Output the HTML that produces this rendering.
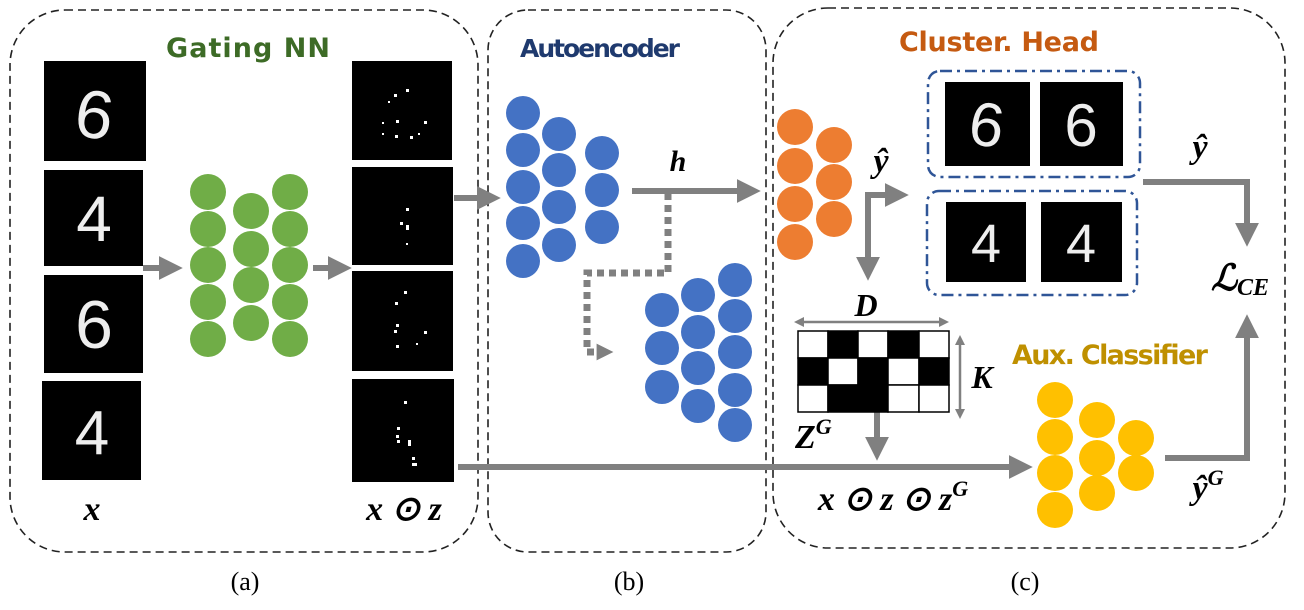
<!DOCTYPE html>
<html><head><meta charset="utf-8"><style>
html,body{margin:0;padding:0;background:#fff;}
svg{display:block;}
.t{font-family:"DejaVu Sans","Liberation Sans",sans-serif;font-weight:bold;}
.m{font-family:"Liberation Serif",serif;font-weight:bold;font-style:italic;}
.d{font-family:"Liberation Sans",sans-serif;fill:#eee;font-weight:normal;}
</style></head><body>
<svg width="1304" height="610" viewBox="0 0 1304 610" xmlns="http://www.w3.org/2000/svg">
<defs>
<marker id="ah" markerWidth="4" markerHeight="4" refX="2.2" refY="2" orient="auto" markerUnits="strokeWidth"><path d="M0,0 L4,2 L0,4 Z" fill="#808080"/></marker>
<marker id="dah" markerWidth="2.4" markerHeight="2.4" refX="1.2" refY="1.2" orient="auto" markerUnits="strokeWidth"><path d="M0,0 L2.4,1.2 L0,2.4 Z" fill="#808080"/></marker>
</defs>
<g fill="none" stroke="#222" stroke-width="1.6" stroke-dasharray="8,5">
<rect x="10" y="10" width="468" height="542" rx="55"/>
<rect x="488" y="10" width="278" height="542" rx="40"/>
<rect x="773" y="8" width="512" height="540" rx="55"/>
</g>
<text class="t" x="248" y="57" font-size="27" fill="#3d6b26" text-anchor="middle" textLength="164">Gating NN</text>
<text class="t" x="600" y="57" font-size="25" fill="#1f3a6e" text-anchor="middle" textLength="160">Autoencoder</text>
<text class="t" x="999" y="51" font-size="27" fill="#c55a11" text-anchor="middle" textLength="200">Cluster. Head</text>
<text class="t" x="1110" y="364" font-size="27" fill="#bf9000" text-anchor="middle" textLength="196">Aux. Classifier</text>
<!-- left images -->
<rect x="44" y="61" width="102" height="100" fill="#000"/><text class="d" x="95" y="138" font-size="68" text-anchor="middle" transform="rotate(8 95 110)">6</text>
<rect x="44" y="170" width="99" height="96" fill="#000"/><text class="d" x="94" y="241" font-size="64" text-anchor="middle">4</text>
<rect x="44" y="275" width="99" height="98" fill="#000"/><text class="d" x="94" y="348" font-size="68" text-anchor="middle">6</text>
<rect x="42" y="381" width="99" height="99" fill="#000"/><text class="d" x="92" y="454" font-size="62" text-anchor="middle">4</text>
<!-- masked images -->
<rect x="352" y="61" width="100" height="99" fill="#000"/>
<rect x="352" y="167" width="101" height="98" fill="#000"/>
<rect x="352" y="271" width="101" height="100" fill="#000"/>
<rect x="352" y="379" width="102" height="103" fill="#000"/>
<g fill="#fff">
<rect x="406" y="89" width="3" height="3"/><rect x="394" y="94" width="3" height="3"/><rect x="388" y="101" width="2" height="2"/><rect x="396" y="120" width="3" height="3"/><rect x="424" y="121" width="3" height="3"/><rect x="395" y="135" width="3" height="3"/><rect x="410" y="136" width="3" height="3"/><rect x="382" y="133" width="2" height="2"/><rect x="418" y="133" width="2" height="2"/><rect x="382" y="122" width="2" height="2"/>
<rect x="406" y="208" width="3" height="3"/><rect x="400" y="222" width="3" height="3"/><rect x="406" y="225" width="3" height="5"/><rect x="406" y="243" width="2" height="2"/>
<rect x="404" y="291" width="3" height="3"/><rect x="395" y="302" width="3" height="3"/><rect x="396" y="324" width="3" height="3"/><rect x="394" y="330" width="3" height="3"/><rect x="424" y="331" width="3" height="3"/><rect x="396" y="345" width="3" height="3"/><rect x="416" y="343" width="2" height="2"/>
<rect x="404" y="401" width="3" height="3"/><rect x="397" y="427" width="3" height="3"/><rect x="396" y="435" width="3" height="3"/><rect x="397" y="440" width="3" height="3"/><rect x="408" y="440" width="3" height="6"/><rect x="412" y="457" width="3" height="3"/><rect x="412" y="463" width="5" height="3"/>
</g>
<!-- green -->
<g fill="#70ad47">
<circle cx="208" cy="192" r="18"/><circle cx="208" cy="229" r="18"/><circle cx="208" cy="265" r="18"/><circle cx="208" cy="302" r="18"/><circle cx="208" cy="339" r="18"/>
<circle cx="251" cy="211" r="18"/><circle cx="251" cy="249" r="18"/><circle cx="251" cy="285" r="18"/><circle cx="251" cy="323" r="18"/>
<circle cx="290" cy="192" r="18"/><circle cx="290" cy="229" r="18"/><circle cx="290" cy="265" r="18"/><circle cx="290" cy="302" r="18"/><circle cx="290" cy="339" r="18"/>
</g>
<g stroke="#808080" stroke-width="6" fill="none">
<line x1="143" y1="268" x2="172" y2="268" marker-end="url(#ah)"/>
<line x1="313" y1="268" x2="341" y2="268" marker-end="url(#ah)"/>
<line x1="454" y1="198" x2="490" y2="198" marker-end="url(#ah)"/>
<line x1="632" y1="191" x2="750" y2="191" marker-end="url(#ah)"/>
<path d="M668,193 V273 H587 V352 H605" stroke-dasharray="7,5" marker-end="url(#dah)" stroke-width="7"/>
<path d="M868,195 V270" marker-end="url(#ah)"/>
<path d="M865,195 H898" marker-end="url(#ah)"/>
<path d="M1143,182 H1247 V236" marker-end="url(#ah)"/>
<path d="M1165,458 H1247 V325" marker-end="url(#ah)"/>
<path d="M877,412 V450" marker-end="url(#ah)"/>
<line x1="458" y1="467" x2="1022" y2="467" marker-end="url(#ah)"/>
</g>
<!-- blue -->
<g fill="#4472c4">
<circle cx="523" cy="113" r="17"/><circle cx="523" cy="150" r="17"/><circle cx="523" cy="187" r="17"/><circle cx="523" cy="223" r="17"/><circle cx="523" cy="261" r="17"/>
<circle cx="559" cy="134" r="17"/><circle cx="559" cy="170" r="17"/><circle cx="559" cy="207" r="17"/><circle cx="559" cy="245" r="17"/>
<circle cx="602" cy="153" r="17"/><circle cx="602" cy="190" r="17"/><circle cx="602" cy="227" r="17"/>
<circle cx="662" cy="310" r="17"/><circle cx="662" cy="348" r="17"/><circle cx="662" cy="387" r="17"/>
<circle cx="698" cy="295" r="17"/><circle cx="698" cy="332" r="17"/><circle cx="698" cy="368" r="17"/><circle cx="698" cy="406" r="17"/>
<circle cx="735" cy="280" r="17"/><circle cx="735" cy="316" r="17"/><circle cx="735" cy="352" r="17"/><circle cx="735" cy="390" r="17"/><circle cx="735" cy="425" r="17"/>
</g>
<text class="m" x="678" y="171" font-size="30" text-anchor="middle">h</text>
<!-- orange -->
<g fill="#ed7d31">
<circle cx="795" cy="127" r="18"/><circle cx="795" cy="166" r="18"/><circle cx="795" cy="204" r="18"/><circle cx="795" cy="242" r="18"/>
<circle cx="834" cy="145" r="18"/><circle cx="834" cy="182" r="18"/><circle cx="834" cy="219" r="18"/>
</g>
<text class="m" x="881" y="172" font-size="34" text-anchor="middle">ŷ</text>
<text class="m" x="1200" y="158" font-size="34" text-anchor="middle">ŷ</text>
<!-- dash-dot boxes -->
<g fill="none" stroke="#2f5597" stroke-width="2.5" stroke-dasharray="12,5,3,5">
<rect x="928" y="71" width="212" height="106" rx="12"/>
<rect x="927" y="191" width="210" height="104" rx="12"/>
</g>
<rect x="945" y="82" width="85" height="84" fill="#000"/><text class="d" x="987" y="146" font-size="62" text-anchor="middle" transform="rotate(8 987 122)">6</text>
<rect x="1040" y="82" width="83" height="84" fill="#000"/><text class="d" x="1081" y="146" font-size="60" text-anchor="middle">6</text>
<rect x="946" y="202" width="80" height="80" fill="#000"/><text class="d" x="986" y="262" font-size="54" text-anchor="middle">4</text>
<rect x="1041" y="202" width="81" height="80" fill="#000"/><text class="d" x="1081" y="262" font-size="54" text-anchor="middle">4</text>
<text class="m" x="1240" y="290" font-size="36" text-anchor="middle">ℒ<tspan font-size="24" dy="5" font-style="italic">CE</tspan></text>
<!-- matrix -->
<g stroke="#000" stroke-width="1.5">
<rect x="798" y="331" width="30" height="27" fill="#fff"/><rect x="828" y="331" width="30" height="27" fill="#000"/><rect x="858" y="331" width="30" height="27" fill="#fff"/><rect x="888" y="331" width="31" height="27" fill="#000"/><rect x="919" y="331" width="30" height="27" fill="#fff"/>
<rect x="798" y="358" width="30" height="27" fill="#000"/><rect x="828" y="358" width="30" height="27" fill="#fff"/><rect x="858" y="358" width="30" height="27" fill="#000"/><rect x="888" y="358" width="31" height="27" fill="#fff"/><rect x="919" y="358" width="30" height="27" fill="#000"/>
<rect x="798" y="385" width="30" height="27" fill="#fff"/><rect x="828" y="385" width="60" height="27" fill="#000"/><rect x="888" y="385" width="31" height="27" fill="#fff"/><rect x="919" y="385" width="30" height="27" fill="#fff"/>
</g>
<g stroke="#808080" stroke-width="2.5" fill="#808080">
<line x1="800" y1="322" x2="943" y2="322"/><path d="M794,322 l10,-5 v10 z M949,322 l-10,-5 v10 z" stroke="none"/>
<line x1="960" y1="342" x2="960" y2="412"/><path d="M960,335 l-5,10 h10 z M960,419 l-5,-10 h10 z" stroke="none"/>
</g>
<text class="m" x="866" y="316" font-size="32" text-anchor="middle">D</text>
<text class="m" x="982" y="388" font-size="32" text-anchor="middle">K</text>
<text class="m" x="795" y="448" font-size="34">Z<tspan font-size="22" dy="-14">G</tspan></text>
<!-- yellow -->
<g fill="#ffc000">
<circle cx="1055" cy="400" r="18"/><circle cx="1055" cy="437" r="18"/><circle cx="1055" cy="473" r="18"/><circle cx="1055" cy="510" r="18"/>
<circle cx="1097" cy="420" r="18"/><circle cx="1097" cy="458" r="18"/><circle cx="1097" cy="493" r="18"/>
<circle cx="1136" cy="438" r="18"/><circle cx="1136" cy="473" r="18"/>
</g>
<text class="m" x="1208" y="499" font-size="34" text-anchor="middle">ŷ<tspan font-size="22" dy="-14">G</tspan></text>
<!-- bottom labels -->
<text class="m" x="92" y="520" font-size="34" text-anchor="middle">x</text>
<text class="m" x="404" y="520" font-size="34" text-anchor="middle">x ⊙ z</text>
<text class="m" x="893" y="510" font-size="34" text-anchor="middle">x ⊙ z ⊙ z<tspan font-size="22" dy="-14">G</tspan></text>
<g font-family="Liberation Serif,serif" font-size="26" text-anchor="middle">
<text x="245" y="590">(a)</text><text x="629" y="590">(b)</text><text x="1025" y="590">(c)</text>
</g>
</svg>
</body></html>
